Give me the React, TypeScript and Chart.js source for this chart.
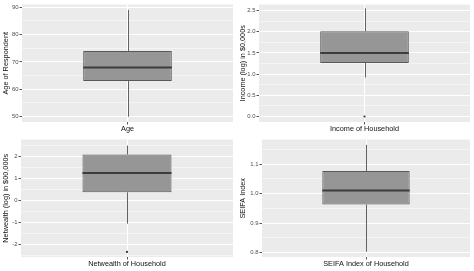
import React, { useEffect, useRef } from "react";
import { Chart, registerables } from "chart.js";
Chart.register(...registerables);

const categories = ["Age", "Income of Household", "Netwealth of Household", "SEIFA Index of Household"];
const yTitles = ["Age of Respondent", "Income (log) in $0,000s", "Netwealth (log) in $00,000s", "SEIFA Index"];
const whiskerLow = [50, 0.92, -1.04, 0.803];
const lowerQuartile = [63, 1.26, 0.38, 0.963];
const medians = [68, 1.5, 1.25, 1.01];
const upperQuartile = [74, 2.01, 2.09, 1.076];
const whiskerHigh = [89, 2.55, 2.5, 1.165];
const outliers: number[][] = [[], [0.0], [-2.32], []];
const yMin = [48.05, -0.13, -2.55, 0.785];
const yMax = [90.95, 2.64, 2.77, 1.183];

const ageTicks = [50, 55, 60, 65, 70, 75, 80, 85, 90];
const ageTickLabels = ["50", "", "60", "", "70", "", "80", "", "90"];
const incomeTicks = [0, 0.25, 0.5, 0.75, 1, 1.25, 1.5, 1.75, 2, 2.25, 2.5];
const incomeTickLabels = ["0.0", "", "0.5", "", "1.0", "", "1.5", "", "2.0", "", "2.5"];
const wealthTicks = [-2.5, -2, -1.5, -1, -0.5, 0, 0.5, 1, 1.5, 2, 2.5];
const wealthTickLabels = ["", "-2", "", "-1", "", "0", "", "1", "", "2", ""];
const seifaTicks = [0.8, 0.85, 0.9, 0.95, 1.0, 1.05, 1.1, 1.15];
const seifaTickLabels = ["0.8", "", "0.9", "", "1.0", "", "1.1", ""];

const tickValues = [ageTicks, incomeTicks, wealthTicks, seifaTicks];
const tickLabels = [ageTickLabels, incomeTickLabels, wealthTickLabels, seifaTickLabels];

const layoutCfg = [
  { left: 0, top: 0, w: 237, h: 135, yAxisW: 22, xAxisH: 13 },
  { left: 237, top: 0, w: 237, h: 135, yAxisW: 22, xAxisH: 13 },
  { left: 0, top: 135, w: 237, h: 136, yAxisW: 21, xAxisH: 14 },
  { left: 237, top: 135, w: 237, h: 136, yAxisW: 25, xAxisH: 14 },
];

const FONT = "'Liberation Sans', Arial, Helvetica, sans-serif";

function makeChart(canvas: HTMLCanvasElement, i: number) {
  const cfg = layoutCfg[i];
  const labels = tickLabels[i];
  const bgPlugin = {
    id: "panelBg",
    beforeDraw(chart: any) {
      const { ctx, chartArea } = chart;
      ctx.save();
      ctx.fillStyle = "#EBEBEB";
      ctx.fillRect(chartArea.left, chartArea.top, chartArea.right - chartArea.left, chartArea.bottom - chartArea.top);
      ctx.restore();
    },
  };
  const boxPlugin = {
    id: "boxExtras",
    beforeDatasetsDraw(chart: any) {
      const { ctx } = chart;
      const xs = chart.scales.x;
      const ys = chart.scales.y;
      const xc = Math.round(xs.getPixelForValue(0)) + 0.5;
      ctx.save();
      ctx.strokeStyle = "#626262";
      ctx.lineWidth = 1;
      ctx.beginPath();
      ctx.moveTo(xc, ys.getPixelForValue(whiskerHigh[i]));
      ctx.lineTo(xc, ys.getPixelForValue(upperQuartile[i]));
      ctx.moveTo(xc, ys.getPixelForValue(lowerQuartile[i]));
      ctx.lineTo(xc, ys.getPixelForValue(whiskerLow[i]));
      ctx.stroke();
      ctx.restore();
    },
    afterDatasetsDraw(chart: any) {
      const { ctx } = chart;
      const xs = chart.scales.x;
      const ys = chart.scales.y;
      const meta = chart.getDatasetMeta(0);
      const bar = meta.data[0];
      const half = bar.width / 2;
      const xc = xs.getPixelForValue(0);
      ctx.save();
      ctx.strokeStyle = "#3c3c3c";
      ctx.lineWidth = 2;
      ctx.beginPath();
      const my = ys.getPixelForValue(medians[i]);
      ctx.moveTo(xc - half, my);
      ctx.lineTo(xc + half, my);
      ctx.stroke();
      ctx.fillStyle = "#333";
      for (const o of outliers[i]) {
        ctx.beginPath();
        ctx.arc(xc, ys.getPixelForValue(o), 1.1, 0, Math.PI * 2);
        ctx.fill();
      }
      ctx.restore();
    },
  };
  return new Chart(canvas, {
    type: "bar",
    data: {
      labels: [categories[i]],
      datasets: [
        {
          data: [[lowerQuartile[i], upperQuartile[i]]] as any,
          backgroundColor: "#969696",
          borderColor: "#585858",
          borderWidth: 1,
          borderSkipped: false,
          barPercentage: 0.42,
          categoryPercentage: 1,
        },
      ],
    },
    options: {
      responsive: false,
      maintainAspectRatio: false,
      animation: false,
      devicePixelRatio: 1,
      layout: { padding: { top: 4, right: 4, left: 0, bottom: 0 } },
      plugins: { legend: { display: false }, tooltip: { enabled: false } },
      scales: {
        x: {
          type: "category",
          border: { display: false },
          grid: {
            offset: false,
            color: "#FFFFFF",
            lineWidth: 1,
            drawTicks: true,
            tickLength: 2.5,
            tickColor: "#555",
          },
          ticks: { display: false },
          title: {
            display: true,
            text: categories[i],
            color: "#111",
            font: { family: FONT, size: 7.3, lineHeight: 1.2 },
            padding: { top: 0, bottom: i < 2 ? 2 : 3 },
          },
          afterFit(scale: any) {
            scale.height = cfg.xAxisH;
          },
        },
        y: {
          type: "linear",
          min: yMin[i],
          max: yMax[i],
          border: { display: false },
          afterBuildTicks(scale: any) {
            scale.ticks = tickValues[i].map((v) => ({ value: v }));
          },
          afterFit(scale: any) {
            scale.width = cfg.yAxisW;
          },
          grid: {
            color: "#FFFFFF",
            lineWidth: (c: any) => (labels[c.index] ? 1 : 0.5),
            drawTicks: true,
            tickLength: 2.5,
            tickColor: (c: any) => (labels[c.index] ? "#555" : "rgba(0,0,0,0)"),
          },
          ticks: {
            autoSkip: false,
            padding: 1,
            color: "#4d4d4d",
            font: { family: FONT, size: 5.9 },
            callback: (_v: any, idx: number) => labels[idx],
          },
          title: {
            display: true,
            text: yTitles[i],
            color: "#111",
            font: { family: FONT, size: 7.3, lineHeight: 1.2 },
            padding: { top: 2, bottom: 0 },
          },
        },
      },
    },
    plugins: [bgPlugin, boxPlugin],
  } as any);
}

function Panel({ i }: { i: number }) {
  const ref = useRef<HTMLCanvasElement>(null);
  useEffect(() => {
    if (!ref.current) return;
    const chart = makeChart(ref.current, i);
    return () => chart.destroy();
  }, [i]);
  const c = layoutCfg[i];
  return (
    <div style={{ position: "absolute", left: c.left, top: c.top, width: c.w, height: c.h }}>
      <canvas ref={ref} width={c.w} height={c.h} style={{ display: "block", width: c.w, height: c.h }} />
    </div>
  );
}

export default function App() {
  return (
    <div style={{ position: "fixed", left: 0, top: 0, width: 474, height: 271, background: "#fff" }}>
      {[0, 1, 2, 3].map((i) => (
        <Panel key={i} i={i} />
      ))}
    </div>
  );
}
